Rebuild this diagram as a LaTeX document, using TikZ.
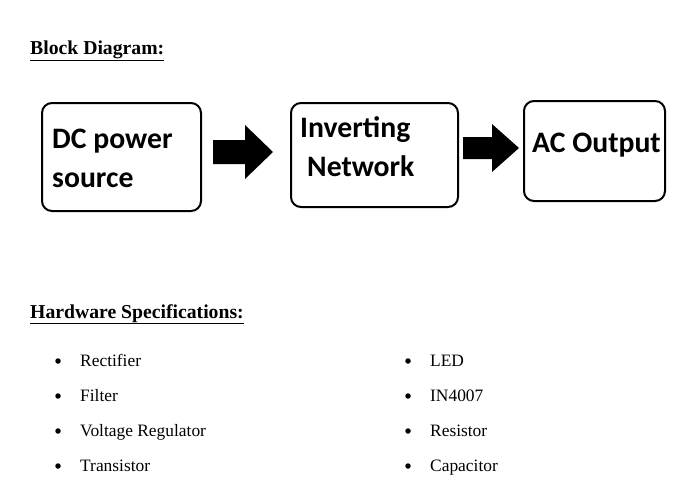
\documentclass[tikz,border=0pt]{standalone}
\usepackage{fontspec}
\setmainfont{Liberation Serif}
\newfontfamily\calib{Carlito}
\begin{document}
\begin{tikzpicture}[x=1pt,y=-1pt,
  blk/.style={draw,line width=2pt,rounded corners=10pt},
  btxt/.style={font=\calib\bfseries\fontsize{29.7}{34}\selectfont,anchor=base west,inner sep=0},
  head/.style={font=\bfseries\fontsize{19.7}{23}\selectfont,anchor=base west,inner sep=0},
  item/.style={font=\fontsize{17.4}{20}\selectfont,anchor=base west,inner sep=0},
  bul/.style={fill,circle,inner sep=0,minimum size=5.5pt},
  barrow/.style={fill=black}]
\useasboundingbox (0,0) rectangle (697,491);
\node[head] (h1) at (30,54) {\underline{Block Diagram:}};
\draw[blk] (42,103) rectangle (201,211);
\draw[blk] (291,103) rectangle (458,207);
\draw[blk] (524,101) rectangle (665,201);
\node[btxt] (t1) at (52,148) {DC power};
\node[btxt] (t1b) at (52,187) {source};
\node[btxt] (t2) at (300,137) {Inverting};
\node[btxt] (t2b) at (307,176) {Network};
\node[btxt] (t3) at (532,152) {AC Output};
\fill[barrow] (213,140) -- (245,140) -- (245,125) -- (273,152) -- (245,179) -- (245,164) -- (213,164) -- cycle;
\fill[barrow] (463,137) -- (492,137) -- (492,124) -- (519,148) -- (492,172) -- (492,159) -- (463,159) -- cycle;
\node[head] (h2) at (30,318) {\underline{Hardware Specifications:}};
\foreach \y/\a/\b in {361/Rectifier/LED,396/Filter/IN4007,431/Voltage Regulator/Resistor,466/Transistor/Capacitor}{
  \node[bul] at (58,\y) {};
  \node[item] at (80,\y+5.5) {\a};
  \node[bul] at (408,\y) {};
  \node[item] at (430,\y+5.5) {\b};
}
\end{tikzpicture}
\end{document}
